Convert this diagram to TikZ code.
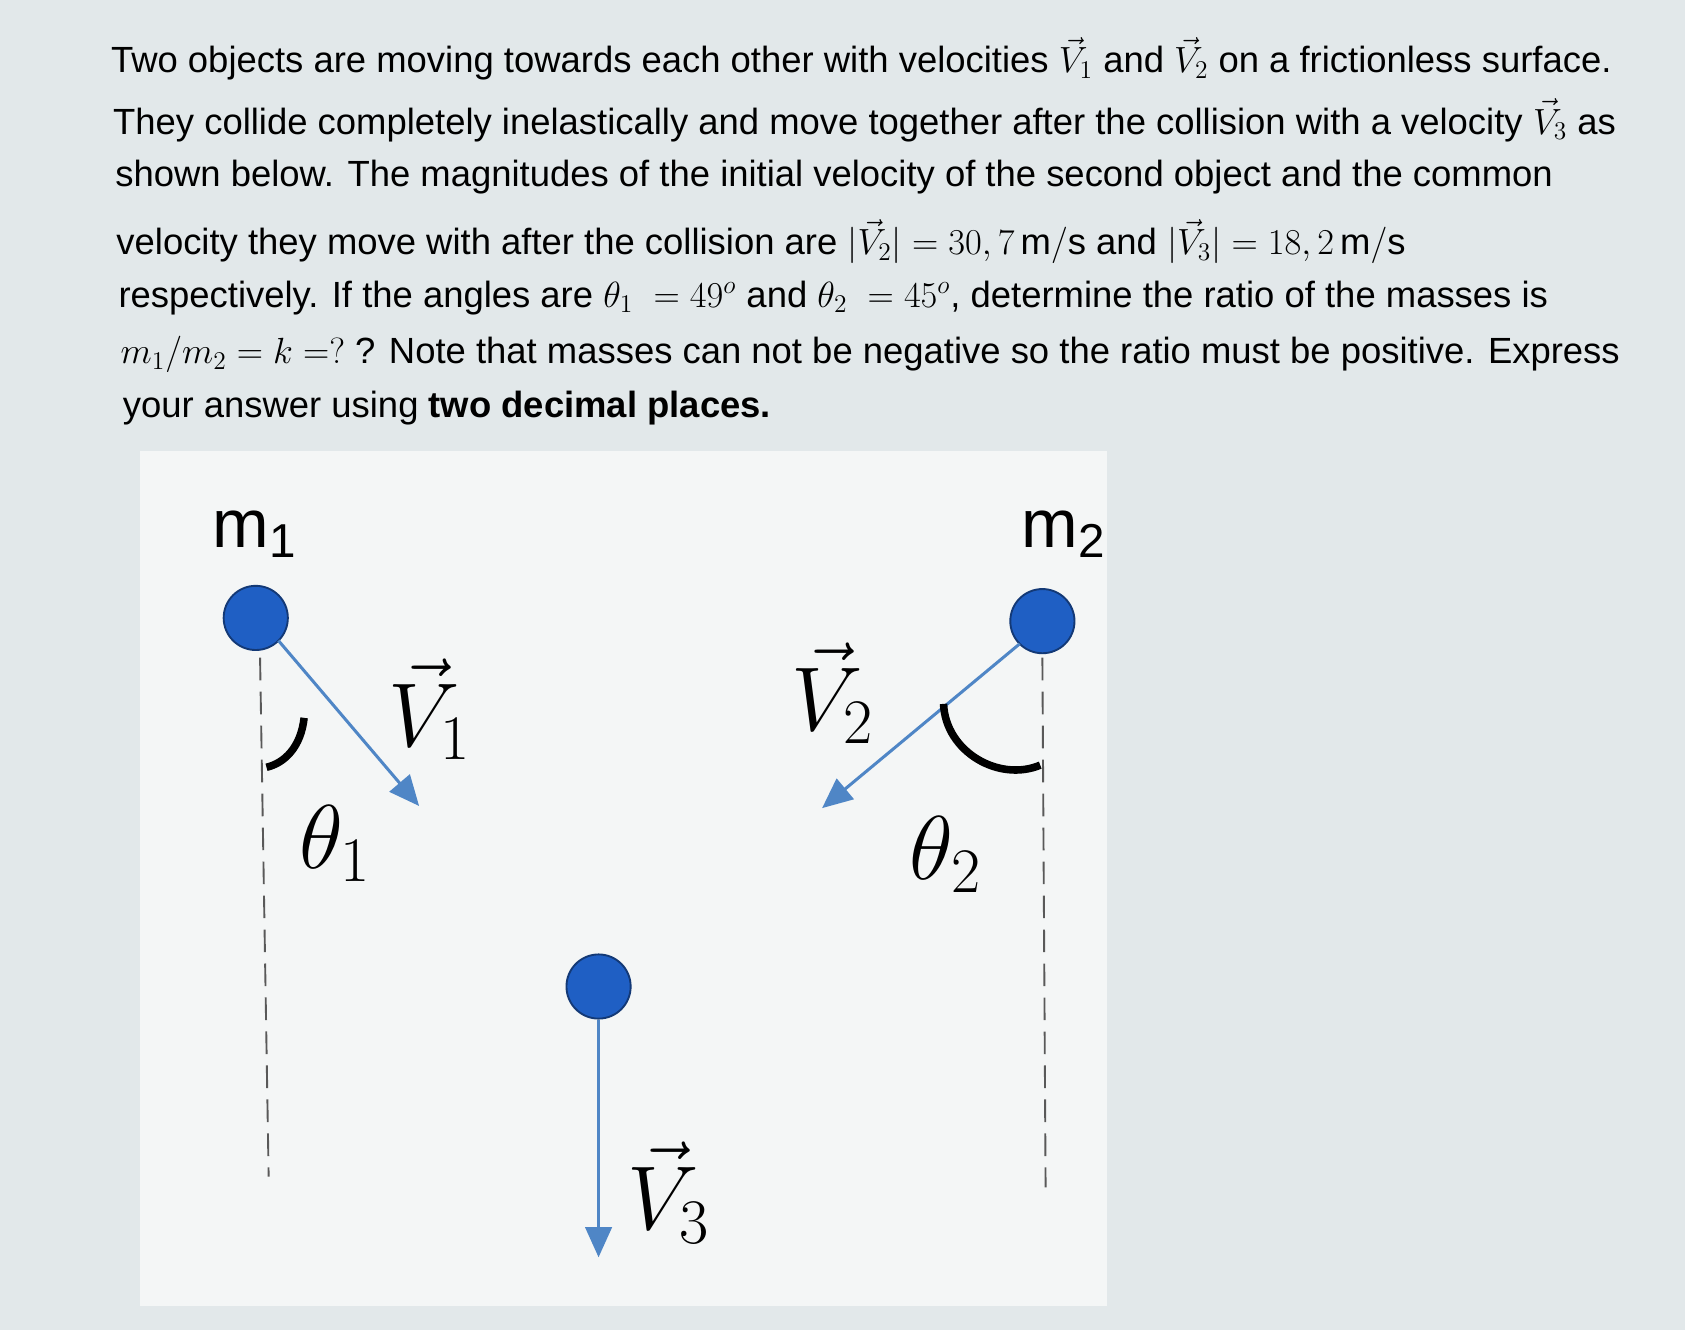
\documentclass[tikz,border=0pt]{standalone}
\usepackage{fix-cm}
\usepackage{fontspec}
\setmainfont{Liberation Sans}
\usetikzlibrary{arrows.meta}
\definecolor{bg}{HTML}{E2E8EA}
\definecolor{panel}{HTML}{F4F6F6}
\definecolor{ball}{HTML}{1F5FC4}
\definecolor{ln}{HTML}{4F86C6}
\tikzset{
  txt/.style={anchor=west,inner sep=0pt,font=\fontsize{19.3}{24}\selectfont},
  mass/.style={circle,fill=ball,draw=ball!60!black,line width=1pt,minimum size=34pt,inner sep=0pt},
  vel/.style={ln,line width=1.6pt,-{Triangle[length=16pt,width=14pt]}},
  guide/.style={gray!70!black,line width=1pt,dash pattern=on 12pt off 6pt},
  ang/.style={line width=4pt,black},
  big/.style={inner sep=0pt,font=\fontsize{36}{40}\selectfont},
  bigm/.style={inner sep=0pt,font=\fontsize{48}{52}\selectfont}
}
\begin{document}
\begin{tikzpicture}[x=0.02cm,y=-0.02cm]
\useasboundingbox (0,0) rectangle (1568,1238);
\fill[bg] (0,0) rectangle (1568,1238);
\fill[panel] (130,420) rectangle (1030,1215);
\node[txt] (l1) at (103,55) {Two objects are moving towards each other with velocities $\vec{V}_1$ and $\vec{V}_2$ on a frictionless surface.};
\node[txt] (l2) at (105,112) {They collide completely inelastically and move together after the collision with a velocity $\vec{V}_3$ as};
\node[txt] (l3) at (107,165) {shown below. The magnitudes of the initial velocity of the second object and the common};
\node[txt] (l4) at (108,225) {velocity they move with after the collision are $|\vec{V}_2|=30,7\,\mathrm{m/s}$ and $|\vec{V}_3|=18,2\,\mathrm{m/s}$};
\node[txt] (l5) at (110,277) {respectively. If the angles are $\theta_1\;=49^{o}$ and $\theta_2\;=45^{o}$, determine the ratio of the masses is};
\node[txt] (l6) at (112,330) {$m_1/m_2=k=?$ ? Note that masses can not be negative so the ratio must be positive. Express};
\node[txt] (l7) at (114,380) {your answer using \textbf{two decimal places.}};
% m1
\node[big] (m1) at (237,497) {m\textsubscript{1}};
\node[mass] (b1) at (238,575) {};
\coordinate (t1) at (390,750);
\draw[vel] (b1.center) ++(-45:17pt) -- (t1);
\coordinate (g1a) at (242,612); \coordinate (g1b) at (250,1095);
\draw[guide] (g1a) -- (g1b);
\draw[ang] (283,668) .. controls (280,695) and (265,710) .. (248,714);
\node[bigm] (v1) at (400,660) {$\vec{V}_1$};
\node[bigm] (th1) at (312,785) {$\theta_1$};
% m2
\node[big] (m2) at (990,497) {m\textsubscript{2}};
\node[mass] (b2) at (970,578) {};
\coordinate (t2) at (765,752);
\draw[vel] (b2.center) ++(-135:17pt) -- (t2);
\coordinate (g2a) at (970,612); \coordinate (g2b) at (973,1105);
\draw[guide] (g2a) -- (g2b);
\draw[ang] (878,655) .. controls (880,700) and (930,728) .. (968,712);
\node[bigm] (v2) at (775,645) {$\vec{V}_2$};
\node[bigm] (th2) at (880,795) {$\theta_2$};
% m3
\node[mass] (b3) at (557,918) {};
\coordinate (t3) at (557,1170);
\draw[vel] (b3.south) -- (t3);
\node[bigm] (v3) at (622,1110) {$\vec{V}_3$};
\end{tikzpicture}
\end{document}
